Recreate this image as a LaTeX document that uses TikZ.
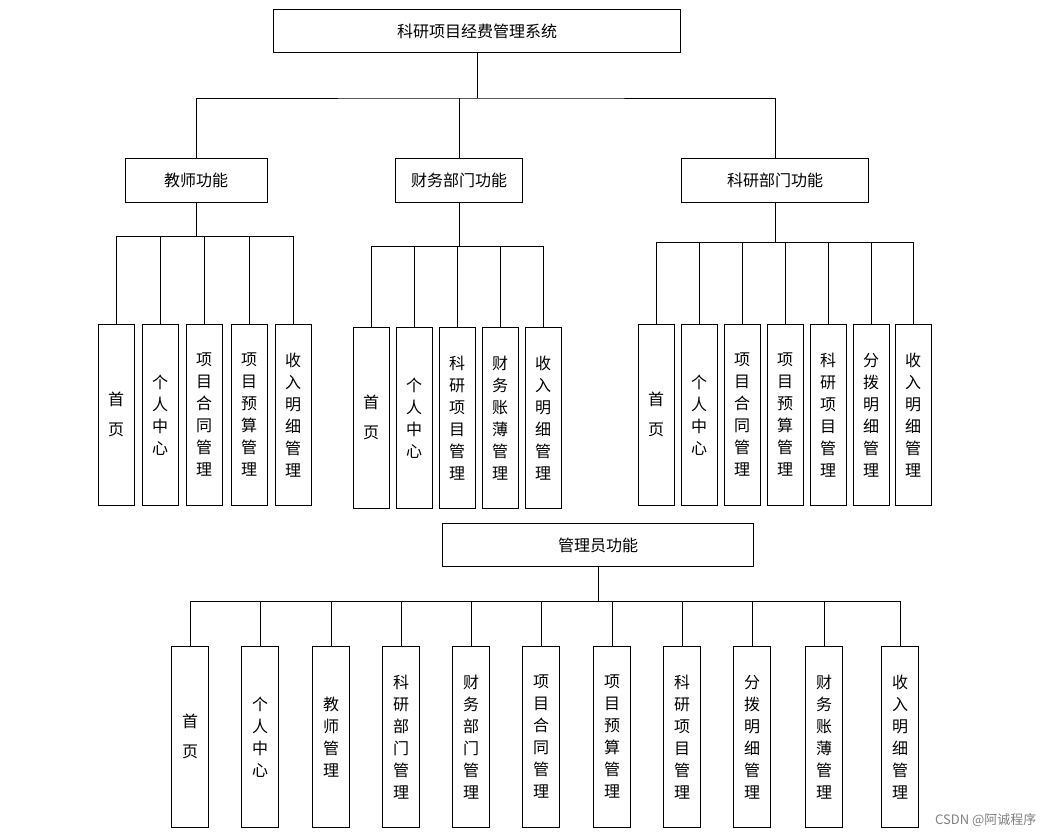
\documentclass[tikz,border=0pt]{standalone}
\usepackage{fontspec}
\setmainfont{Noto Sans CJK SC}
\tikzset{
  kuang/.style={draw,thick,inner sep=0pt,font=\fontsize{16}{22}\selectfont},
  shu/.style={kuang,minimum width=36pt,minimum height=181pt,align=center,anchor=north},
  xian/.style={thin,black}
}
\begin{document}
\begin{tikzpicture}[x=1pt,y=-1pt]
  \useasboundingbox (0,0) rectangle (1053,838);
  % top levels
  \node[kuang,minimum width=407pt,minimum height=43pt] (sys) at (477,31) {科研项目经费管理系统};
  \node[kuang,minimum width=142pt,minimum height=44pt] (js) at (196,180) {教师功能};
  \node[kuang,minimum width=127pt,minimum height=44pt] (cw) at (459,180) {财务部门功能};
  \node[kuang,minimum width=187pt,minimum height=44pt] (ky) at (775,180) {科研部门功能};
  \node[kuang,minimum width=311pt,minimum height=43pt] (gl) at (598,545) {管理员功能};
  \coordinate (b0) at (477,98);
  \draw[xian] (sys.south) -- (b0);
  \draw[xian] (js.north) |- (b0) -| (ky.north);
  \draw[xian] (cw.north) -- (cw.north |- b0);
  \draw[xian] (gl.north -| 598,98) -- (gl.north);
  % teacher
  \coordinate (bt) at (196,236);
  \draw[xian] (js.south) -- (bt);
  \draw[xian] (117,236) -- (293,236);
  \foreach \x/\t [count=\i] in {116/首\\[8pt]页,160/个\\人\\中\\心,204/项\\目\\合\\同\\管\\理,249/项\\目\\预\\算\\管\\理,293/收\\入\\明\\细\\管\\理}{
    \node[shu] (t\i) at (\x,324) {\t};
    \draw[xian] (t\i.north) -- (\x,236);
  }
  % finance
  \draw[xian] (cw.south) -- (459,246);
  \draw[xian] (371,246) -- (543,246);
  \foreach \x/\t [count=\i] in {371/首\\[8pt]页,414/个\\人\\中\\心,457/科\\研\\项\\目\\管\\理,500/财\\务\\账\\薄\\管\\理,543/收\\入\\明\\细\\管\\理}{
    \node[shu] (f\i) at (\x,327) {\t};
    \draw[xian] (f\i.north) -- (\x,246);
  }
  % research
  \draw[xian] (ky.south) -- (775,242);
  \draw[xian] (656,242) -- (913,242);
  \foreach \x/\t [count=\i] in {656/首\\[8pt]页,699/个\\人\\中\\心,742/项\\目\\合\\同\\管\\理,785/项\\目\\预\\算\\管\\理,828/科\\研\\项\\目\\管\\理,871/分\\拨\\明\\细\\管\\理,913/收\\入\\明\\细\\管\\理}{
    \node[shu] (r\i) at (\x,324) {\t};
    \draw[xian] (r\i.north) -- (\x,242);
  }
  % admin
  \draw[xian] (gl.south) -- (598,601);
  \draw[xian] (190,601) -- (900,601);
  \foreach \x/\t [count=\i] in {190/首\\[8pt]页,260/个\\人\\中\\心,331/教\\师\\管\\理,401/科\\研\\部\\门\\管\\理,471/财\\务\\部\\门\\管\\理,541/项\\目\\合\\同\\管\\理,612/项\\目\\预\\算\\管\\理,682/科\\研\\项\\目\\管\\理,752/分\\拨\\明\\细\\管\\理,824/财\\务\\账\\薄\\管\\理,900/收\\入\\明\\细\\管\\理}{
    \node[shu,minimum width=37pt] (a\i) at (\x,646) {\t};
    \draw[xian] (a\i.north) -- (\x,601);
  }
  \node[gray,font=\fontsize{13}{15}\selectfont,anchor=east] (wm) at (1040,820) {CSDN @阿诚程序};
\end{tikzpicture}
\end{document}
